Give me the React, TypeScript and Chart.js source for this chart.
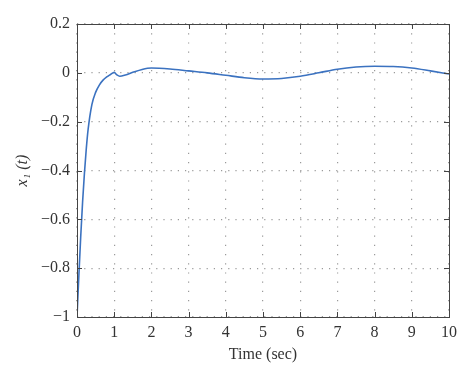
import React, { useEffect, useRef } from "react";
import { Chart, registerables } from "chart.js";

Chart.register(...registerables);

const timeSec = [0, 0.05, 0.1, 0.15, 0.2, 0.25, 0.3, 0.4, 0.5, 0.6, 0.7, 0.8, 0.9, 1.0, 1.07, 1.15, 1.3, 1.5, 1.75, 2.0, 2.5, 3, 3.5, 4, 4.5, 5, 5.5, 6, 6.5, 7, 7.5, 8, 8.5, 9, 9.5, 10];
const x1Values = [-1, -0.83, -0.67, -0.53, -0.41, -0.31, -0.23, -0.13, -0.08, -0.05, -0.03, -0.017, -0.007, 0.002, -0.008, -0.014, -0.009, 0.002, 0.014, 0.02, 0.016, 0.008, 0.0, -0.01, -0.02, -0.025, -0.023, -0.014, 0.0, 0.015, 0.024, 0.027, 0.026, 0.02, 0.008, -0.005];
const xTickValues = [0, 1, 2, 3, 4, 5, 6, 7, 8, 9, 10];
const yTickValues = [-1, -0.8, -0.6, -0.4, -0.2, 0, 0.2];
const xAxisTitle = "Time (sec)";
const yAxisTitle = "x\u2081 (t)";

const fmt = (v: number) => {
  const r = Math.round(v * 10) / 10;
  const s = String(Math.abs(r));
  return r < 0 ? "\u2212" + s : s;
};

const boxPlugin = {
  id: "boxTicks",
  afterDatasetsDraw(chart: any) {
    const { ctx, chartArea, scales } = chart;
    const { left, right, top, bottom } = chartArea;
    const tl = 5;
    ctx.save();
    ctx.strokeStyle = "#444444";
    ctx.lineWidth = 1;
    ctx.beginPath();
    xTickValues.forEach((v) => {
      const px = Math.round(scales.x.getPixelForValue(v)) + 0.5;
      ctx.moveTo(px, bottom);
      ctx.lineTo(px, bottom - tl);
      ctx.moveTo(px, top);
      ctx.lineTo(px, top + tl);
    });
    yTickValues.forEach((v) => {
      const py = Math.round(scales.y.getPixelForValue(v)) + 0.5;
      ctx.moveTo(left, py);
      ctx.lineTo(left + tl, py);
      ctx.moveTo(right, py);
      ctx.lineTo(right - tl, py);
    });
    ctx.stroke();
    ctx.strokeRect(Math.round(left) + 0.5, Math.round(top) + 0.5, Math.round(right - left), Math.round(bottom - top));
    ctx.restore();
  },
};

export default function App() {
  const ref = useRef<HTMLCanvasElement>(null);
  useEffect(() => {
    document.body.style.margin = "0";
    const canvas = ref.current!;
    const font = { family: "'Liberation Serif', 'Times New Roman', serif", size: 16 };
    const chart = new Chart(canvas, {
      type: "line",
      data: {
        datasets: [
          {
            data: timeSec.map((t, i) => ({ x: t, y: x1Values[i] })),
            borderColor: "#3b72c0",
            borderWidth: 1.6,
            pointRadius: 0,
            cubicInterpolationMode: "monotone",
            fill: false,
          },
        ],
      },
      options: {
        animation: false,
        responsive: false,
        maintainAspectRatio: false,
        layout: { padding: { left: 0, right: 25, top: 24, bottom: 0 } },
        plugins: { legend: { display: false }, tooltip: { enabled: false } },
        scales: {
          x: {
            type: "linear",
            min: 0,
            max: 10,
            afterBuildTicks: (s: any) => {
              s.ticks = xTickValues.map((v) => ({ value: v }));
            },
            afterFit: (s: any) => {
              s.height = 63;
            },
            ticks: { color: "#333", font, padding: 6, maxRotation: 0, callback: (v: any) => String(v) },
            grid: { color: "#9a9a9a", lineWidth: 1.2, drawTicks: false },
            border: { display: false, dash: [1.2, 8] },
            title: { display: true, text: xAxisTitle, color: "#333", font, padding: { top: 0, bottom: 16 } },
          },
          y: {
            type: "linear",
            min: -1,
            max: 0.2,
            afterBuildTicks: (s: any) => {
              s.ticks = yTickValues.map((v) => ({ value: v }));
            },
            afterFit: (s: any) => {
              s.width = 77;
            },
            ticks: { color: "#333", font, padding: 7, callback: (v: any) => fmt(Number(v)) },
            grid: { color: "#9a9a9a", lineWidth: 1.2, drawTicks: false },
            border: { display: false, dash: [1.2, 6] },
            title: {
              display: true,
              text: yAxisTitle,
              color: "#333",
              font: { ...font, style: "italic" },
              padding: { top: 13, bottom: 0 },
            },
          },
        },
      },
      plugins: [boxPlugin],
    } as any);
    return () => chart.destroy();
  }, []);
  return (
    <div style={{ position: "absolute", left: 0, top: 0, width: 474, height: 380, background: "#fff" }}>
      <canvas ref={ref} width={474} height={380} style={{ width: 474, height: 380 }} />
    </div>
  );
}
